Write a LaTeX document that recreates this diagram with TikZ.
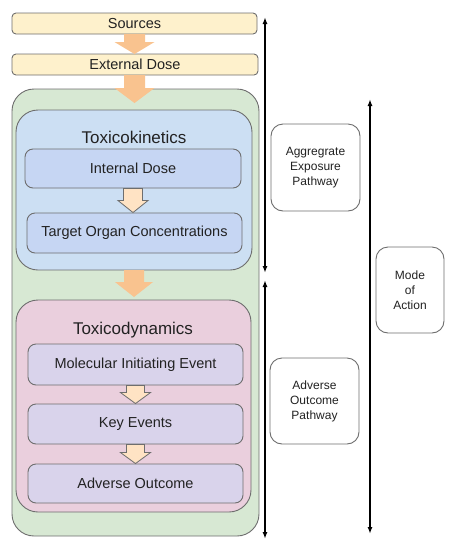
\documentclass[tikz,border=0pt]{standalone}
\usepackage{fontspec}
\setmainfont{Liberation Sans}
\usetikzlibrary{calc,arrows.meta}
\definecolor{yel}{HTML}{FEF1CC}
\definecolor{grn}{HTML}{D7E8D3}
\definecolor{blu}{HTML}{CCDFF3}
\definecolor{bluin}{HTML}{C6D6F3}
\definecolor{pnk}{HTML}{EACFDD}
\definecolor{prp}{HTML}{D9D3EB}
\definecolor{orng}{HTML}{F9C38F}
\definecolor{peach}{HTML}{FFE3C4}
\definecolor{edge}{HTML}{6E6E6E}
\definecolor{txt}{HTML}{222222}
\newcommand\blockarrow[6]{%
  \path[#1] let \p1=(#2), \p2=(#3) in
    (\x1-#4,\y1) -- (\x1+#4,\y1) -- (\x1+#4,\y2+#6) -- (\x1+#5,\y2+#6)
    -- (\x1,\y2) -- (\x1-#5,\y2+#6) -- (\x1-#4,\y2+#6) -- cycle;}
\tikzset{
  box/.style={draw=edge, line width=0.9pt, inner sep=0pt, text=txt,
    font=\fontsize{14.5}{17}\selectfont},
  bar/.style={box, fill=yel, rounded corners=4pt},
  container/.style={draw=edge, line width=0.9pt, inner sep=0pt, rounded corners=22pt},
  step box/.style={box, rounded corners=8pt},
  label box/.style={draw=edge, line width=0.9pt, fill=white, rounded corners=12pt,
    inner sep=0pt, align=center, text=txt, font=\fontsize{12}{15}\selectfont},
  title/.style={text=txt, font=\fontsize{17}{20}\selectfont, inner sep=0pt},
  bigarrow/.style={fill=orng},
  smallarrow/.style={fill=peach, draw=edge, line width=0.8pt, line join=miter},
  span/.style={line width=1.4pt, {Latex[length=7pt,width=5pt]}-{Latex[length=7pt,width=5pt]}}
}
\begin{document}
\begin{tikzpicture}[x=1pt,y=-1pt]
\useasboundingbox (0,0) rectangle (451,550);
% containers
\node[container, fill=grn, minimum width=247pt, minimum height=447pt] (green) at (135.5,312.5) {};
\node[container, fill=blu, minimum width=236pt, minimum height=160pt] (tk) at (134,190) {};
\node[container, fill=pnk, minimum width=235pt, minimum height=212pt] (td) at (133.5,406) {};
\node[title] (tkt) at (134,137) {Toxicokinetics};
\node[title] (tdt) at (133,330) {Toxicodynamics};
% bars
\node[bar, minimum width=245pt, minimum height=21pt] (src) at (134.5,23.5) {Sources};
\node[bar, minimum width=246pt, minimum height=21pt] (ext) at (135,64.5) {External Dose};
% steps
\node[step box, fill=bluin, minimum width=216pt, minimum height=39pt] (id) at (133,168.5) {Internal Dose};
\node[step box, fill=bluin, minimum width=215pt, minimum height=40pt] (toc) at (134.5,233) {Target Organ Concentrations};
\node[step box, fill=prp, minimum width=215pt, minimum height=41pt] (mie) at (135.5,364.5) {Molecular Initiating Event};
\node[step box, fill=prp, minimum width=215pt, minimum height=40pt] (ke) at (135.5,424) {Key Events};
\node[step box, fill=prp, minimum width=215pt, minimum height=39pt] (ao) at (135.5,483.5) {Adverse Outcome};
% labels
\node[label box, minimum width=89pt, minimum height=87pt] (aep) at (315.5,167.5) {Aggregrate\\Exposure\\Pathway};
\node[label box, minimum width=68pt, minimum height=86pt] (moa) at (410,290) {Mode\\of\\Action};
\node[label box, minimum width=89pt, minimum height=86pt] (aop) at (314.5,401) {Adverse\\Outcome\\Pathway};
% big arrows
\coordinate (a1s) at (134.5,34);
\coordinate (a1e) at (134.5,54);
\blockarrow{bigarrow}{a1s}{a1e}{10.5pt}{20pt}{12pt}
\coordinate (a2s) at (134.5,75);
\coordinate (a2e) at (134.5,103);
\blockarrow{bigarrow}{a2s}{a2e}{10.5pt}{20pt}{15pt}
\coordinate (a3s) at (134,270);
\coordinate (a3e) at (134,297);
\blockarrow{bigarrow}{a3s}{a3e}{10pt}{19pt}{15pt}
% small arrows
\blockarrow{smallarrow}{id.south}{toc.north}{9.5pt}{15pt}{12pt}
\blockarrow{smallarrow}{mie.south}{ke.north}{9pt}{15pt}{11pt}
\blockarrow{smallarrow}{ke.south}{ao.north}{9pt}{15pt}{11pt}
% spans
\coordinate (s1t) at (265,17);
\coordinate (s1b) at (265,273);
\coordinate (s2t) at (265,280);
\coordinate (s2b) at (265,539);
\coordinate (s3t) at (370,99);
\coordinate (s3b) at (370,534);
\draw[span] (s1t) -- (s1b);
\draw[span] (s2t) -- (s2b);
\draw[span] (s3t) -- (s3b);
\end{tikzpicture}
\end{document}
